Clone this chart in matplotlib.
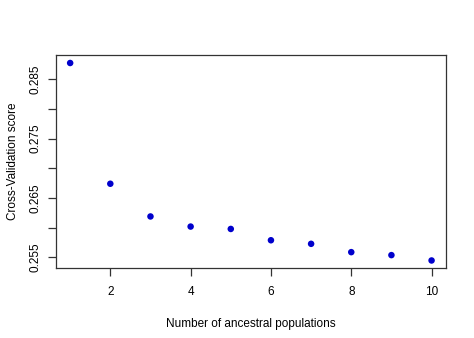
import numpy as np
import matplotlib
matplotlib.use("Agg")
import matplotlib.pyplot as plt

plt.rcParams['font.family'] = ['Liberation Sans', 'DejaVu Sans']

k_values = [1, 2, 3, 4, 5, 6, 7, 8, 9, 10]
cv_scores = [0.2877, 0.2674, 0.2619, 0.2602, 0.2598, 0.2579, 0.2573, 0.2559, 0.2554, 0.2545]

xticks = [2, 4, 6, 8, 10]
yticks = [0.255, 0.260, 0.265, 0.270, 0.275, 0.280, 0.285]
ytick_labels = ['0.255', '', '0.265', '', '0.275', '', '0.285']

fig = plt.figure(figsize=(4.74, 3.38), dpi=100)
ax = fig.add_axes([0.1175, 0.206, 0.8235, 0.631])

ax.scatter(k_values, cv_scores, s=22, color='#0000CC', edgecolors='none', zorder=3)

# limites a la R (4 % de marge)
xr = max(k_values) - min(k_values)
yr = max(cv_scores) - min(cv_scores)
ax.set_xlim(min(k_values) - 0.04 * xr, max(k_values) + 0.04 * xr)
ax.set_ylim(min(cv_scores) - 0.04 * yr, max(cv_scores) + 0.04 * yr)

ax.set_xticks(xticks)
ax.set_yticks(yticks)
ax.set_yticklabels(ytick_labels, rotation=90, va='center')

for s in ax.spines.values():
    s.set_linewidth(0.9)
    s.set_color('#333333')
ax.tick_params(direction='out', length=6, width=0.9, color='#333333', labelsize=8.5)
ax.tick_params(axis='x', pad=7)
ax.tick_params(axis='y', pad=4)

ax.set_xlabel('Number of ancestral populations', fontsize=8.5, labelpad=14)
ax.set_ylabel('Cross-Validation score', fontsize=8.5, labelpad=8)

plt.savefig('out.png', dpi=100)
